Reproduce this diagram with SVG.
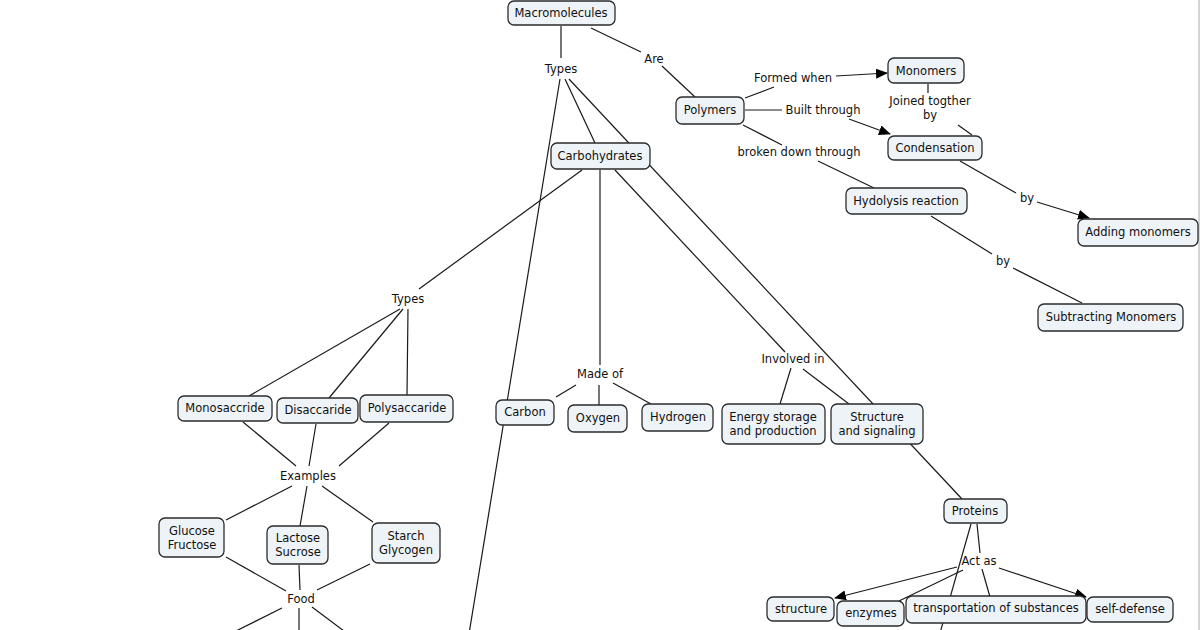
<svg xmlns="http://www.w3.org/2000/svg" width="1200" height="630" viewBox="0 0 1200 630">
<defs>
<style>
.n rect{fill:#edf3f6;stroke:#2b2b2b;stroke-width:1.3}
text{font-family:"DejaVu Sans","Verdana",sans-serif;font-size:11.5px;fill:#111;text-anchor:middle;dominant-baseline:central}
#connectors line{stroke:#1a1a1a;stroke-width:1.2;fill:none}
</style>
<marker id="ah" viewBox="0 0 12 10" refX="11" refY="5" markerWidth="12" markerHeight="10" markerUnits="userSpaceOnUse" orient="auto">
<path d="M0,0 L12,5 L0,10 z" fill="#000"/>
</marker>
</defs>
<rect x="0" y="0" width="1200" height="630" fill="#fff"/>
<line x1="1199" y1="0" x2="1199" y2="630" stroke="#aaa" stroke-width="1"/>
<g id="connectors">
<line x1="561" y1="26" x2="561" y2="58"/>
<line x1="591" y1="28" x2="641" y2="52"/>
<line x1="662" y1="66" x2="695" y2="97"/>
<line x1="565" y1="79" x2="595" y2="143"/>
<line x1="569" y1="79" x2="962" y2="499"/>
<line x1="560" y1="79" x2="468" y2="640"/>
<line x1="582" y1="170" x2="419" y2="289"/>
<line x1="600" y1="170" x2="600" y2="365"/>
<line x1="576" y1="385" x2="556" y2="397"/>
<line x1="599" y1="385" x2="599" y2="405"/>
<line x1="613" y1="383" x2="651" y2="404"/>
<line x1="615" y1="170" x2="785" y2="352"/>
<line x1="791" y1="368" x2="780" y2="404"/>
<line x1="803" y1="369" x2="849" y2="404"/>
<line x1="400" y1="309" x2="249" y2="396"/>
<line x1="403" y1="309" x2="329" y2="398"/>
<line x1="408" y1="309" x2="407" y2="395"/>
<line x1="243" y1="422" x2="296" y2="466"/>
<line x1="316" y1="424" x2="309" y2="466"/>
<line x1="389" y1="423" x2="339" y2="466"/>
<line x1="292" y1="486" x2="226" y2="520"/>
<line x1="307" y1="486" x2="300" y2="526"/>
<line x1="322" y1="486" x2="373" y2="522"/>
<line x1="226" y1="557" x2="286" y2="591"/>
<line x1="299" y1="565" x2="300" y2="590"/>
<line x1="370" y1="564" x2="317" y2="590"/>
<line x1="282" y1="608" x2="230" y2="634"/>
<line x1="299" y1="608" x2="299" y2="634"/>
<line x1="312" y1="607" x2="348" y2="634"/>
<line x1="745" y1="98" x2="774" y2="87"/>
<line x1="836" y1="76" x2="887" y2="73" marker-end="url(#ah)"/>
<line x1="745" y1="110" x2="782" y2="110"/>
<line x1="849" y1="119" x2="890" y2="134" marker-end="url(#ah)"/>
<line x1="743" y1="125" x2="782" y2="145"/>
<line x1="818" y1="161" x2="874" y2="188"/>
<line x1="928" y1="84" x2="928" y2="93"/>
<line x1="958" y1="125" x2="972" y2="135"/>
<line x1="960" y1="161" x2="1016" y2="193"/>
<line x1="1037" y1="202" x2="1089" y2="218" marker-end="url(#ah)"/>
<line x1="931" y1="216" x2="992" y2="254"/>
<line x1="1013" y1="268" x2="1082" y2="303"/>
<line x1="977" y1="524" x2="980" y2="553"/>
<line x1="971" y1="524" x2="938" y2="640"/>
<line x1="982" y1="569" x2="990" y2="597"/>
<line x1="957" y1="567" x2="835" y2="598" marker-end="url(#ah)"/>
<line x1="963" y1="570" x2="899" y2="601"/>
<line x1="999" y1="568" x2="1086" y2="597" marker-end="url(#ah)"/>
</g>
<g id="labels">
<text x="561" y="69">Types</text>
<text x="654" y="59">Are</text>
<text x="793" y="78">Formed when</text>
<text x="823" y="110">Built through</text>
<text x="799" y="152">broken down through</text>
<text x="930" y="101">Joined togther</text>
<text x="930" y="115">by</text>
<text x="1027" y="198">by</text>
<text x="1003" y="261">by</text>
<text x="408" y="299">Types</text>
<text x="600" y="374">Made of</text>
<text x="793" y="359">Involved in</text>
<text x="308" y="476">Examples</text>
<text x="301" y="599">Food</text>
<text x="979" y="561">Act as</text>
</g>
<g id="macromolecules" class="n"><rect x="508" y="1" width="107" height="24" rx="6"/><text x="561" y="13">Macromolecules</text></g>
<g id="polymers" class="n"><rect x="676" y="97" width="68" height="27" rx="6"/><text x="710" y="110">Polymers</text></g>
<g id="carbohydrates" class="n"><rect x="551" y="143" width="99" height="26" rx="6"/><text x="600" y="156">Carbohydrates</text></g>
<g id="monomers" class="n"><rect x="888" y="58" width="76" height="25" rx="6"/><text x="926" y="71">Monomers</text></g>
<g id="condensation" class="n"><rect x="888" y="136" width="94" height="24" rx="6"/><text x="935" y="148">Condensation</text></g>
<g id="hydolysis" class="n"><rect x="846" y="188" width="121" height="26" rx="6"/><text x="906" y="201">Hydolysis reaction</text></g>
<g id="adding" class="n"><rect x="1078" y="219" width="120" height="27" rx="6"/><text x="1138" y="232">Adding monomers</text></g>
<g id="subtracting" class="n"><rect x="1038" y="304" width="145" height="27" rx="6"/><text x="1111" y="317">Subtracting Monomers</text></g>
<g id="monosaccride" class="n"><rect x="178" y="396" width="94" height="25" rx="6"/><text x="225" y="408">Monosaccride</text></g>
<g id="disaccaride" class="n"><rect x="277" y="398" width="81" height="25" rx="6"/><text x="318" y="410">Disaccaride</text></g>
<g id="polysaccaride" class="n"><rect x="360" y="395" width="93" height="27" rx="6"/><text x="407" y="408">Polysaccaride</text></g>
<g id="carbon" class="n"><rect x="496" y="400" width="58" height="25" rx="6"/><text x="525" y="412">Carbon</text></g>
<g id="oxygen" class="n"><rect x="568" y="405" width="59" height="27" rx="6"/><text x="598" y="418">Oxygen</text></g>
<g id="hydrogen" class="n"><rect x="642" y="404" width="71" height="27" rx="6"/><text x="678" y="417">Hydrogen</text></g>
<g id="energy" class="n"><rect x="722" y="404" width="103" height="40" rx="6"/><text x="773" y="417">Energy storage</text><text x="773" y="431">and production</text></g>
<g id="structure-signaling" class="n"><rect x="831" y="404" width="92" height="40" rx="6"/><text x="877" y="417">Structure</text><text x="877" y="431">and signaling</text></g>
<g id="glucose" class="n"><rect x="159" y="518" width="65" height="39" rx="6"/><text x="192" y="531">Glucose</text><text x="192" y="545">Fructose</text></g>
<g id="lactose" class="n"><rect x="267" y="526" width="61" height="38" rx="6"/><text x="298" y="538">Lactose</text><text x="298" y="552">Sucrose</text></g>
<g id="starch" class="n"><rect x="372" y="523" width="68" height="40" rx="6"/><text x="406" y="536">Starch</text><text x="406" y="550">Glycogen</text></g>
<g id="proteins" class="n"><rect x="944" y="499" width="63" height="24" rx="6"/><text x="975" y="511">Proteins</text></g>
<g id="structure" class="n"><rect x="767" y="597" width="67" height="24" rx="6"/><text x="801" y="609">structure</text></g>
<g id="enzymes" class="n"><rect x="837" y="601" width="67" height="25" rx="6"/><text x="871" y="613">enzymes</text></g>
<g id="transportation" class="n"><rect x="906" y="596" width="180" height="27" rx="6"/><text x="996" y="608">transportation of substances</text></g>
<g id="self-defense" class="n"><rect x="1087" y="597" width="86" height="25" rx="6"/><text x="1130" y="609">self-defense</text></g>
</svg>
